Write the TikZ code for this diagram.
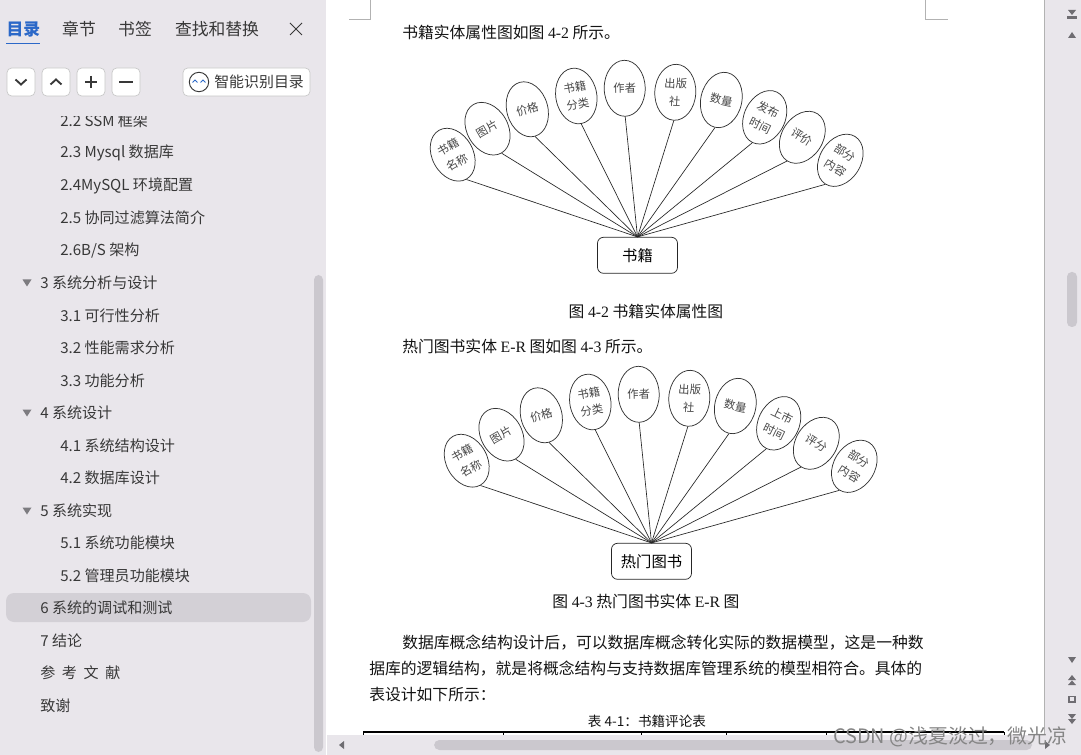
\documentclass[tikz,border=0pt]{standalone}
\usepackage{fontspec}
\setmainfont{Noto Sans CJK SC}
\newfontfamily\docnum{Liberation Serif}
\usetikzlibrary{shapes.geometric}
\definecolor{panelbg}{HTML}{E9E6EB}
\definecolor{panelsel}{HTML}{D3D0D6}
\definecolor{thumbgray}{HTML}{CBC8CE}
\definecolor{tocink}{HTML}{383838}
\definecolor{tabblue}{HTML}{2B68C8}
\definecolor{icongray}{HTML}{6F6D72}
\tikzset{
  attr/.style={draw=black!80,ellipse,fill=white,line width=0.55pt,inner sep=0pt,
    minimum width=30.75pt,minimum height=42pt,align=center,text=black!72,
    font=\fontsize{8.5pt}{13.2pt}\selectfont},
  entity/.style={draw=black!85,fill=white,rounded corners=4.5pt,line width=0.55pt,
    minimum width=60pt,minimum height=27pt,inner sep=0pt,font=\fontsize{11.5pt}{14pt}\selectfont},
  link/.style={black!85,line width=0.5pt},
  tocitem/.style={anchor=west,inner sep=0pt,text=tocink,font=\fontsize{11.3pt}{13pt}\selectfont},
  tabitem/.style={inner sep=0pt,text=tocink,font=\fontsize{12.6pt}{15pt}\selectfont},
  doctext/.style={anchor=west,inner sep=0pt,text=black!92,font=\fontsize{11.85pt}{14pt}\selectfont},
  toolbtn/.style={draw=black!22,fill=white,rounded corners=3.5pt,line width=0.5pt,inner sep=0pt},
  tocarrow/.style={fill=icongray!90},
  barbtn/.style={fill=icongray}
}
% one fan of attributes around an entity: prefix, shift, two labels that differ, entity text
\newcommand{\attrfan}[5]{
  \begin{scope}[shift={#2}]
    \node[entity] (#1box) at (637.5,255.3) {#5};
    \foreach \i/\x/\y/\r/\lab in {
      1/452.7/154.7/29/{书籍\\名称},
      2/487.5/128.7/30/{图片},
      3/527.3/109.3/16/{价格},
      4/576.3/96/10/{书籍\\分类},
      5/624.7/88.3/1/{作者},
      6/675.3/92.3/-3/{出版\\社},
      7/721.3/100/-13/{数量},
      8/764.7/117.3/-26/{#3},
      9/802.3/137.3/-33/{#4},
      10/840.3/160.3/-32/{部分\\内容}} {
      \node[attr,rotate=\r] (#1attr\i) at (\x,\y) {\lab};
      \draw[link] (#1attr\i.south) -- (#1box.north);
    }
  \end{scope}
}
\begin{document}
\begin{tikzpicture}[x=0.75pt,y=-0.75pt]
  \useasboundingbox (0,0) rectangle (1081,755);

  % page
  \fill[white] (0,0) rectangle (1081,755);
  \draw[black!30,line width=0.5pt] (349,19) -- (370,19) -- (370,0);
  \draw[black!30,line width=0.5pt] (925,0) -- (925,19) -- (948,19);

  \node[doctext] (introa) at (402,32) {书籍实体属性图如图 {\docnum 4-2} 所示。};
  \attrfan{book}{(0,0)}{发布\\时间}{评价}{书籍}
  \node[doctext,anchor=center] (capa) at (646,311) {图 {\docnum 4-2} 书籍实体属性图};

  \node[doctext] (introb) at (402,346) {热门图书实体 {\docnum E-R} 图如图 {\docnum 4-3} 所示。};
  \attrfan{hot}{(14,306)}{上市\\时间}{评分}{热门图书}
  \node[doctext,anchor=center] (capb) at (646,601) {图 {\docnum 4-3} 热门图书实体 {\docnum E-R} 图};

  \node[doctext] (paraa) at (402,643) {数据库概念结构设计后，可以数据库概念转化实际的数据模型，这是一种数};
  \node[doctext] (parab) at (369,669) {据库的逻辑结构，就是将概念结构与支持数据库管理系统的模型相符合。具体的};
  \node[doctext] (parac) at (369,695) {表设计如下所示：};
  \node[doctext,anchor=center,font=\fontsize{10.2pt}{12pt}\selectfont] (tabcap) at (647,721) {表 4-1：书籍评论表};

  % table top
  \draw[black,line width=0.8pt] (363,732) -- (1004,732);
  \foreach \x in {363,503,641.5,726.5,826,1004} \draw[black,line width=0.6pt] (\x,732) -- (\x,736);

  % side panel
  \fill[panelbg] (0,0) rectangle (326,755);
  \fill[panelsel,rounded corners=6pt] (6,593) rectangle (311,622);
  \fill[thumbgray,rounded corners=3.5pt] (314,275) rectangle (323,752);

  % table of contents
  \foreach \y/\lab in {120.5/2.2 SSM 框架,153/2.3 Mysql 数据库,186/2.4MySQL 环境配置,218/2.5 协同过滤算法简介,
    251/{2.6B/S 架构},316/3.1 可行性分析,348/3.2 性能需求分析,381/3.3 功能分析,446/4.1 系统结构设计,
    478/4.2 数据库设计,543/5.1 系统功能模块,576/5.2 管理员功能模块}
    \node[tocitem] (toc\y) at (60,\y) {\lab};
  \foreach \y/\lab in {283/3 系统分析与设计,413/4 系统设计,511/5 系统实现,608/6 系统的调试和测试,
    641/7 结论,673/{参\hspace{5pt}考\hspace{5pt}文\hspace{5pt}献},706/致谢}
    \node[tocitem] (toc\y) at (40,\y) {\lab};
  \foreach \y in {283,413,511}
    \fill[tocarrow] (22.5,\y-3.5) -- (31.5,\y-3.5) -- (27,\y+3.5) -- cycle;

  % panel head covers the clipped entry
  \fill[panelbg] (0,0) rectangle (326,116);
  \node[tabitem,text=tabblue,font=\bfseries\fontsize{12.6pt}{15pt}\selectfont] (tabtoc) at (23.5,29) {目录};
  \fill[tabblue] (6,43) rectangle (40,44.5);
  \node[tabitem] (tabchap) at (79,29) {章节};
  \node[tabitem] (tabmark) at (135,29) {书签};
  \node[tabitem] (tabfind) at (217,29) {查找和替换};
  \draw[tocink,line width=0.7pt] (290,23) -- (302,35) (302,23) -- (290,35);

  % buttons
  \foreach \n/\x in {down/21,up/56,plus/91,minus/126}
    \node[toolbtn,minimum width=21pt,minimum height=21pt] (btn\n) at (\x,82) {};
  \draw[tocink,line width=1.4pt] (15.5,79.5) -- (21,84.5) -- (26.5,79.5);
  \draw[tocink,line width=1.4pt] (50.5,84.5) -- (56,79.5) -- (61.5,84.5);
  \draw[tocink,line width=1.4pt] (85,82) -- (97,82) (91,76) -- (91,88);
  \draw[tocink,line width=1.4pt] (119,82) -- (133,82);
  \node[toolbtn,minimum width=95.25pt,minimum height=21pt] (btnauto) at (246.5,82) {};
  \draw[tocink,line width=0.7pt] (199,82) circle (9.7);
  \draw[tabblue,line width=0.6pt] (192.5,82.5) -- (195,80) -- (197.5,82.5) (200.5,82.5) -- (203,80) -- (205.5,82.5);
  \node[tocitem,font=\fontsize{11.2pt}{13pt}\selectfont] (btnautotext) at (214,82) {智能识别目录};

  % right bar
  \fill[panelbg] (1045,0) rectangle (1081,755);
  \draw[black!30,line width=0.5pt] (1044.5,0) -- (1044.5,735);
  \fill[thumbgray,rounded corners=3.5pt] (1067,272) rectangle (1077,327);
  \fill[barbtn] (1068,10) -- (1076,10) -- (1072,15) -- cycle;
  \fill[barbtn] (1067,16) rectangle (1077,19);
  \fill[barbtn] (1068,38) -- (1076,38) -- (1072,32) -- cycle;
  \fill[barbtn] (1068,657) -- (1076,657) -- (1072,663) -- cycle;
  \fill[barbtn] (1068,680) -- (1076,680) -- (1072,675) -- cycle (1068,685) -- (1076,685) -- (1072,680.5) -- cycle;
  \draw[barbtn,draw=icongray,fill=none,line width=1.2pt] (1069,696.5) rectangle (1075,702);
  \fill[barbtn] (1068,714) -- (1076,714) -- (1072,719) -- cycle (1068,719) -- (1076,719) -- (1072,724) -- cycle;

  % bottom bar
  \fill[panelbg] (327,735) rectangle (1081,755);
  \fill[thumbgray,rounded corners=4pt] (434,740) rectangle (1032,750);
  \fill[barbtn] (344,741) -- (344,749) -- (339,745) -- cycle;
  \fill[barbtn] (1045,741) -- (1045,749) -- (1050,745) -- cycle;

  % watermark
  \node[anchor=west,inner sep=0pt,text=black!48,font=\fontsize{14.9pt}{16pt}\selectfont] (stamp) at (833,737) {CSDN @浅夏淡过，微光凉};
\end{tikzpicture}
\end{document}
